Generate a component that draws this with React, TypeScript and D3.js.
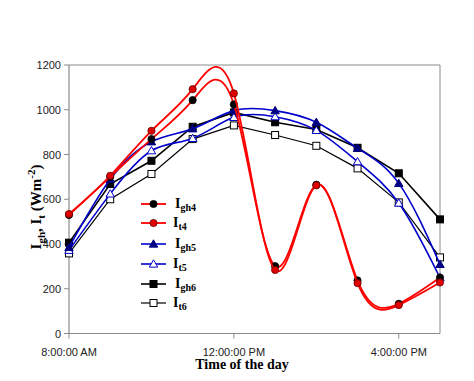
import React from "react";
import * as d3 from "d3";

const hours = [8, 9, 10, 11, 12, 13, 14, 15, 16, 17];
const Igh4 = [530, 700, 869, 1043, 1024, 301, 665, 237, 133, 250];
const It4 = [534, 705, 906, 1092, 1073, 284, 662, 225, 127, 228];
const Igh5 = [385, 689, 857, 915, 996, 996, 944, 828, 671, 309];
const It5 = [372, 624, 817, 872, 966, 969, 908, 768, 583, 249];
const Igh6 = [406, 668, 772, 924, 988, 944, 912, 830, 716, 510];
const It6 = [358, 600, 713, 869, 930, 887, 839, 738, 586, 340];

const xTicks = [8, 12, 16];
const xTickLabels = ["8:00:00 AM", "12:00:00 PM", "4:00:00 PM"];
const yTicks = [0, 200, 400, 600, 800, 1000, 1200];

type Series = {
  name: string;
  sub: string;
  values: number[];
  color: string;
  marker: "circle" | "square" | "triangle";
  fill: string;
  stroke: string;
  width: number;
  smooth: boolean;
};

const series: Series[] = [
  { name: "I", sub: "gh4", values: Igh4, color: "#ff0000", marker: "circle", fill: "#000", stroke: "#000", width: 1.8, smooth: true },
  { name: "I", sub: "t4", values: It4, color: "#ff0000", marker: "circle", fill: "#e00000", stroke: "#600", width: 1.8, smooth: true },
  { name: "I", sub: "gh5", values: Igh5, color: "#0000cc", marker: "triangle", fill: "#000080", stroke: "#000080", width: 1.6, smooth: true },
  { name: "I", sub: "t5", values: It5, color: "#0000cc", marker: "triangle", fill: "#fff", stroke: "#0000cc", width: 1.6, smooth: true },
  { name: "I", sub: "gh6", values: Igh6, color: "#000", marker: "square", fill: "#000", stroke: "#000", width: 1.6, smooth: false },
  { name: "I", sub: "t6", values: It6, color: "#000", marker: "square", fill: "#fff", stroke: "#000", width: 1.2, smooth: false },
];

const L = 69, R = 440, T = 65, B = 333.5;

function Marker({ s, x, y }: { s: Series; x: number; y: number }) {
  if (s.marker === "circle") return <circle cx={x} cy={y} r={3.6} fill={s.fill} stroke={s.stroke} strokeWidth={0.8} />;
  if (s.marker === "square") return <rect x={x - 3.5} y={y - 3.5} width={7} height={7} fill={s.fill} stroke={s.stroke} strokeWidth={1} />;
  const h = 4.2;
  return (
    <path d={`M${x},${y - h} L${x + h},${y + h * 0.75} L${x - h},${y + h * 0.75} Z`} fill={s.fill} stroke={s.stroke} strokeWidth={1} />
  );
}

export default function App() {
  const x = d3.scaleLinear().domain([8, 17]).range([L, R]);
  const y = d3.scaleLinear().domain([0, 1200]).range([B, T]);
  const drawOrder = [5, 4, 3, 2, 0, 1];
  const tickFont = "Arial, 'Liberation Sans', sans-serif";
  const serif = "'Times New Roman', 'Liberation Serif', serif";
  const legendRows = [204, 223, 244, 264, 284, 303];
  return (
    <svg width={474} height={381} style={{ position: "absolute", left: 0, top: 0, background: "#fff" }}>
      <rect x={0} y={0} width={474} height={381} fill="#fff" />
      {/* frame */}
      <line x1={L} x2={R} y1={T} y2={T} stroke="#8a8a8a" strokeWidth={1} />
      <line x1={R} x2={R} y1={T} y2={B} stroke="#8a8a8a" strokeWidth={1} />
      <line x1={L} x2={L} y1={T} y2={B} stroke="#8a8a8a" strokeWidth={1.2} />
      <line x1={L} x2={R} y1={B} y2={B} stroke="#8a8a8a" strokeWidth={1.2} />
      {yTicks.map((t) => (
        <g key={t}>
          <line x1={L - 5} x2={L} y1={y(t)} y2={y(t)} stroke="#8a8a8a" />
          <text x={L - 8} y={y(t) + 4} textAnchor="end" fontSize={11} fontFamily={tickFont} fill="#222">{t}</text>
        </g>
      ))}
      {xTicks.map((t, i) => (
        <g key={t}>
          <line x1={x(t)} x2={x(t)} y1={B} y2={B + 5} stroke="#8a8a8a" />
          <text x={x(t)} y={B + 22} textAnchor="middle" fontSize={11} fontFamily={tickFont} fill="#222">{xTickLabels[i]}</text>
        </g>
      ))}
      <text x={242} y={369} textAnchor="middle" fontSize={14} fontWeight="bold" fontFamily={serif}>Time of the day</text>
      <text transform="translate(41,207) rotate(-90)" textAnchor="middle" fontSize={15} fontWeight="bold" fontFamily={serif}>
        I<tspan fontSize={11} dy={4}>gh</tspan><tspan dy={-4}>, I</tspan><tspan fontSize={11} dy={4}>t</tspan>
        <tspan dy={-4}> (Wm</tspan><tspan fontSize={11} dy={-6}>-2</tspan><tspan dy={6}>)</tspan>
      </text>
      {drawOrder.map((i) => {
        const s = series[i];
        const line = d3
          .line<number>()
          .x((_, k) => x(hours[k]))
          .y((v) => y(v))
          .curve(s.smooth ? d3.curveNatural : d3.curveLinear);
        return (
          <g key={i}>
            <path d={line(s.values) || ""} fill="none" stroke={s.color} strokeWidth={s.width} />
            {s.values.map((v, k) => (
              <Marker key={k} s={s} x={x(hours[k])} y={y(v)} />
            ))}
          </g>
        );
      })}
      {series.map((s, i) => (
        <g key={i}>
          <line x1={141} x2={166} y1={legendRows[i]} y2={legendRows[i]} stroke={s.color} strokeWidth={s.width} />
          <Marker s={s} x={153.5} y={legendRows[i]} />
          <text x={i % 2 === 0 ? 175 : 173} y={legendRows[i] + 4} fontSize={14} fontWeight="bold" fontFamily={serif}>
            {s.name}
            <tspan fontSize={10} dy={3}>{s.sub}</tspan>
          </text>
        </g>
      ))}
    </svg>
  );
}
